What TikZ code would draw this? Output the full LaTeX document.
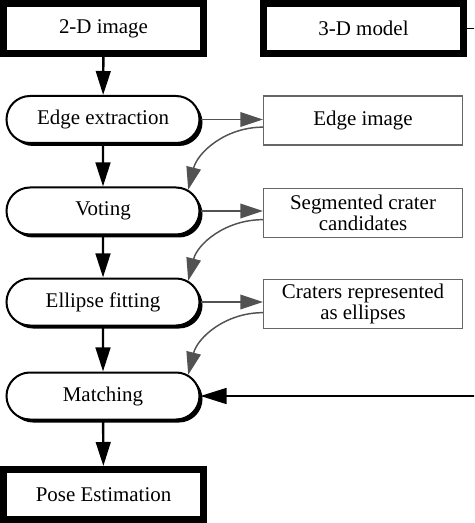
\documentclass[tikz,border=0pt]{standalone}
\usepackage{fontspec}
\setmainfont{Liberation Serif}
\usetikzlibrary{arrows.meta,shapes.misc,shadows}

\begin{document}
\begin{tikzpicture}[
    x=0.75pt, y=-0.75pt,
    font=\fontsize{15.7}{13.5}\selectfont,
    io/.style={rectangle, draw, line width=5.25pt, minimum width=150pt, minimum height=37.5pt, inner sep=0pt, fill=white},
    stage/.style={rounded rectangle, draw, line width=1.5pt, minimum width=144.75pt, minimum height=35.25pt, inner sep=0pt, fill=white,
        drop shadow={shadow xshift=2.25pt, shadow yshift=-2.25pt, fill=black, opacity=1}},
    result/.style={rectangle, draw=black!60, line width=1.1pt, minimum width=149pt, minimum height=37pt, inner sep=0pt, align=center},
    flow/.style={-{Triangle[length=18pt,width=11pt]}, line width=1.8pt},
    side/.style={-{Triangle[length=17pt,width=11pt]}, black!68, line width=1.1pt},
    back/.style={-{Triangle[length=19.5pt,width=12pt]}, line width=1.1pt}
]
\useasboundingbox (0,0) rectangle (474,523);
\clip (0,0) rectangle (474,523);

% Input and output blocks
\node (img2d) [io] at (103.5,28.5) {2-D image};
\node (model3d) [io] at (363.5,28.5) {3-D model};
\node (pose) [io] at (103.5,494.5) {Pose Estimation};

% Processing stages
\node (edge) [stage] at (103,119.5) {Edge extraction};
\node (voting) [stage] at (103,211) {Voting};
\node (fitting) [stage] at (103,302) {Ellipse fitting};
\node (matching) [stage] at (103,396) {Matching};

% Intermediate results
\node (edgeimg) [result] at (363,120.5) {Edge image};
\node (segm) [result] at (363,213) {Segmented crater\\candidates};
\node (craters) [result] at (363,304) {Craters represented\\as ellipses};

% Main flow
\draw [flow] (img2d) -- (edge);
\draw [flow] (edge) -- (voting);
\draw [flow] (voting) -- (fitting);
\draw [flow] (fitting) -- (matching);
\draw [flow] (matching) -- (pose);

% Results out and back in
\draw [side] (edge.east) -- (edge.east -| edgeimg.west);
\draw [side] (voting.east) -- (voting.east -| segm.west);
\draw [side] (fitting.east) -- (fitting.east -| craters.west);
\draw [side] ([yshift=-5pt]edgeimg.west) to[out=180, in=76] (voting.14);
\draw [side] ([yshift=-5pt]segm.west) to[out=180, in=76] (fitting.14);
\draw [side] ([yshift=-6.5pt]craters.west) to[out=180, in=76] (matching.14);

% Model into matching
\draw [back] (model3d.east) -- ++(30,0) |- (matching.east);
\end{tikzpicture}
\end{document}
